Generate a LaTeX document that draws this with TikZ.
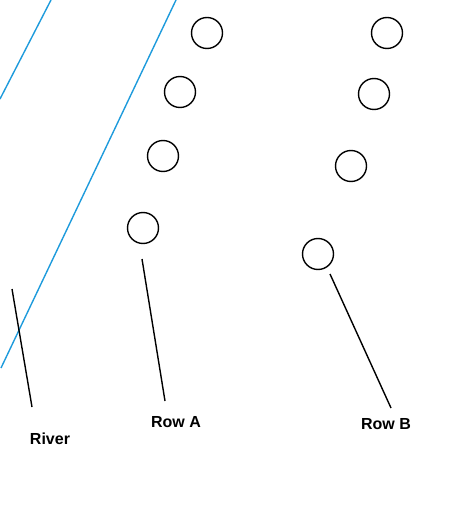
\documentclass[tikz,border=0pt]{standalone}
\usepackage{fontspec}
\setmainfont{Liberation Sans}
\definecolor{riverblue}{RGB}{30,155,220}
\begin{document}
\begin{tikzpicture}[x=1pt,y=-1pt,
  tree/.style={draw=black,line width=1.4pt,circle,minimum size=31pt,inner sep=0pt},
  pointer/.style={draw=black,line width=1.4pt},
  bank/.style={draw=riverblue,line width=1.4pt},
  lbl/.style={font=\bfseries\fontsize{16}{18}\selectfont,inner sep=0pt}]
\useasboundingbox (0,0) rectangle (474,529);
% river banks
\coordinate (b1s) at (51,0);
\coordinate (b1e) at (0,99);
\coordinate (b2s) at (176,0);
\coordinate (b2e) at (1,368);
\draw[bank] (b1s) -- (b1e);
\draw[bank] (b2s) -- (b2e);
% row A
\node[tree] (a1) at (207,33) {};
\node[tree] (a2) at (180,92) {};
\node[tree] (a3) at (163,156) {};
\node[tree] (a4) at (143,228) {};
% row B
\node[tree] (b1) at (387,33) {};
\node[tree] (b2) at (374,94) {};
\node[tree] (b3) at (351,166) {};
\node[tree] (b4) at (318,254) {};
% labels
\node[lbl] (river) at (50,439) {River};
\node[lbl] (rowa) at (176,422) {Row A};
\node[lbl] (rowb) at (386,424) {Row B};
% pointers
\coordinate (rs) at (12,289);
\coordinate (re) at (32,407);
\coordinate (as) at (142,259);
\coordinate (ae) at (165,401);
\coordinate (bs) at (330,274);
\coordinate (be) at (391,408);
\draw[pointer] (rs) -- (re);
\draw[pointer] (as) -- (ae);
\draw[pointer] (bs) -- (be);
\end{tikzpicture}
\end{document}
